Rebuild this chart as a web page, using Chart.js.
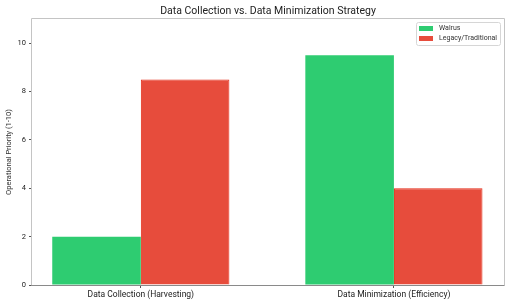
<!DOCTYPE html>
<html>
<head>
<meta charset="utf-8">
<script src="https://cdn.jsdelivr.net/npm/chart.js@4/dist/chart.umd.min.js"></script>
<style>
  html, body { margin: 0; padding: 0; background: #fff; }
  #wrap { width: 512px; height: 307px; }
</style>
</head>
<body>
<div id="wrap"><canvas id="chart" width="512" height="307"></canvas></div>
<script>
// Chart data
const categories = ['Data Collection (Harvesting)', 'Data Minimization (Efficiency)'];
const walrusValues = [2, 9.5];
const legacyValues = [8.5, 4];
const seriesNames = ['Walrus', 'Legacy/Traditional'];
const yTicks = [0, 2, 4, 6, 8, 10];

const FONT = 'Roboto, "Open Sans", sans-serif';

// matplotlib-like frame around the plot area
const framePlugin = {
    id: 'frame',
    beforeDatasetsDraw(chart) {
        const a = chart.chartArea;
        const ctx = chart.ctx;
        ctx.save();
        ctx.lineWidth = 1;
        ctx.strokeStyle = '#c4c4c4';
        ctx.beginPath();
        ctx.moveTo(Math.round(a.left) - 0.5, Math.round(a.bottom) + 0.5);
        ctx.lineTo(Math.round(a.left) - 0.5, Math.round(a.top) - 0.5);
        ctx.lineTo(Math.round(a.right) + 0.5, Math.round(a.top) - 0.5);
        ctx.lineTo(Math.round(a.right) + 0.5, Math.round(a.bottom) + 0.5);
        ctx.stroke();
        ctx.strokeStyle = '#8a8a8a';
        ctx.beginPath();
        ctx.moveTo(Math.round(a.left) - 0.5, Math.round(a.bottom) + 0.5);
        ctx.lineTo(Math.round(a.right) + 0.5, Math.round(a.bottom) + 0.5);
        ctx.stroke();
        ctx.restore();
    }
};

// legend box inside the plot, top right
const boxLegendPlugin = {
    id: 'boxLegend',
    afterDraw(chart) {
        const a = chart.chartArea;
        const ctx = chart.ctx;
        const w = 84, h = 23;
        const x = a.right - 4 - w, y = a.top + 3;
        ctx.save();
        ctx.fillStyle = 'rgba(255,255,255,0.85)';
        ctx.strokeStyle = '#d6d6d6';
        ctx.lineWidth = 1;
        ctx.beginPath();
        ctx.roundRect(x + 0.5, y + 0.5, w, h, 2);
        ctx.fill();
        ctx.stroke();
        ctx.font = '7px ' + FONT;
        ctx.textBaseline = 'middle';
        chart.data.datasets.forEach((ds, i) => {
            const cy = y + 6.5 + i * 10;
            ctx.fillStyle = ds.backgroundColor;
            ctx.fillRect(x + 3, cy - 2.5, 14, 5);
            ctx.fillStyle = '#333';
            ctx.fillText(ds.label, x + 23, cy);
        });
        ctx.restore();
    }
};

const ctx = document.getElementById('chart').getContext('2d');
new Chart(ctx, {
    type: 'bar',
    data: {
        datasets: [
            {
                label: seriesNames[0],
                data: walrusValues.map((v, i) => ({ x: i, y: v })),
                backgroundColor: '#2ecc71',
                borderWidth: 0,
                inflateAmount: 0,
                categoryPercentage: 0.7,
                barPercentage: 1
            },
            {
                label: seriesNames[1],
                data: legacyValues.map((v, i) => ({ x: i, y: v })),
                backgroundColor: '#e74c3c',
                borderColor: '#e42a14',
                borderWidth: 1,
                inflateAmount: 0,
                categoryPercentage: 0.7,
                barPercentage: 1
            }
        ]
    },
    options: {
        responsive: false,
        animation: false,
        layout: { padding: { top: 0, right: 8, bottom: 0, left: 0 } },
        plugins: {
            legend: { display: false },
            tooltip: { enabled: false },
            title: {
                display: true,
                fullSize: false,
                text: 'Data Collection vs. Data Minimization Strategy',
                color: '#222',
                font: { family: FONT, size: 10.5, weight: 'normal' },
                padding: { top: 5, bottom: 1.4 }
            }
        },
        scales: {
            x: {
                type: 'linear',
                offset: false,
                min: -0.43,
                max: 1.435,
                afterFit: s => { s.height = 22; },
                afterBuildTicks: s => { s.ticks = categories.map((c, i) => ({ value: i })); },
                ticks: {
                    autoSkip: false,
                    maxRotation: 0,
                    padding: 2,
                    color: '#222',
                    font: { family: FONT, size: 8.5 },
                    callback: v => categories[v]
                },
                grid: { offset: false, drawOnChartArea: false, tickLength: 3, color: '#555' },
                border: { display: false }
            },
            y: {
                min: 0,
                max: 11,
                afterFit: s => { s.width = 32; },
                afterBuildTicks: s => { s.ticks = yTicks.map(v => ({ value: v })); },
                ticks: {
                    padding: 3,
                    color: '#222',
                    font: { family: FONT, size: 7.5 }
                },
                title: {
                    display: true,
                    text: 'Operational Priority (1-10)',
                    color: '#333',
                    font: { family: FONT, size: 7.5 },
                    padding: { top: 5, bottom: 0 }
                },
                grid: { drawOnChartArea: false, tickLength: 3, color: '#555' },
                border: { display: false }
            }
        }
    },
    plugins: [framePlugin, boxLegendPlugin]
});
</script>
</body>
</html>
